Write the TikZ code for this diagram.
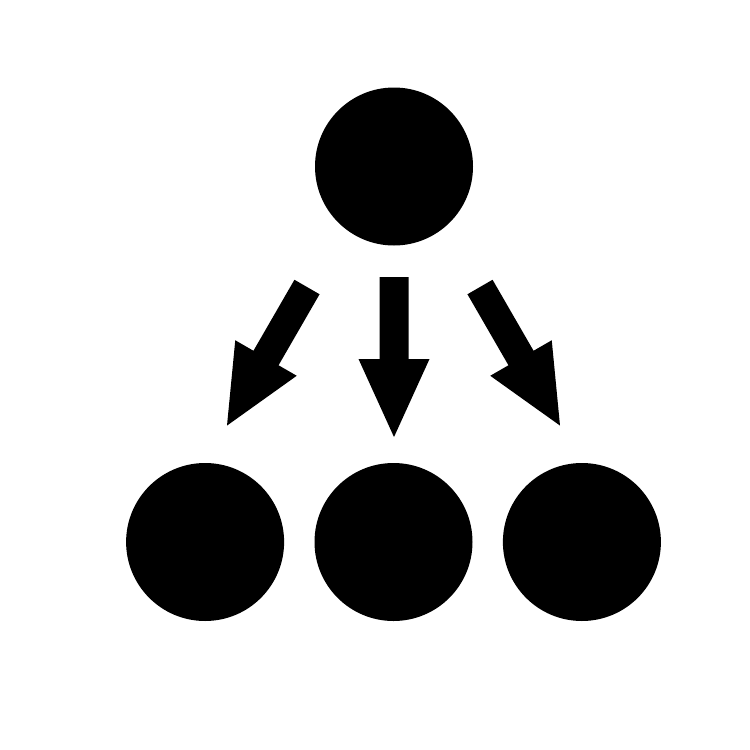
\documentclass[tikz,border=0pt]{standalone}
\usetikzlibrary{positioning}

\tikzset{
  dot/.style={circle, fill=black, draw=none, minimum size=158pt, inner sep=0pt},
  pointer/.pic={
    \fill[black] (-14.5,0) -- (14.5,0) -- (14.5,82) -- (35.5,82) -- (0,160)
      -- (-35.5,82) -- (-14.5,82) -- cycle;
  }
}

\begin{document}
\begin{tikzpicture}[x=1pt, y=-1pt]
\useasboundingbox[fill=white] (0,0) rectangle (750,750);

% top and bottom dots
\node[dot] (source) at (394,166.5) {};
\node[dot] (middle) at (393.5,542) {};
\node[dot, left=30pt of middle] (left) {};
\node[dot, right=30pt of middle] (right) {};

% block arrows
\pic at (394,277) {pointer};
\pic[rotate=-30] at (307,287) {pointer};
\pic[rotate=30] at (480,287) {pointer};

\end{tikzpicture}
\end{document}
